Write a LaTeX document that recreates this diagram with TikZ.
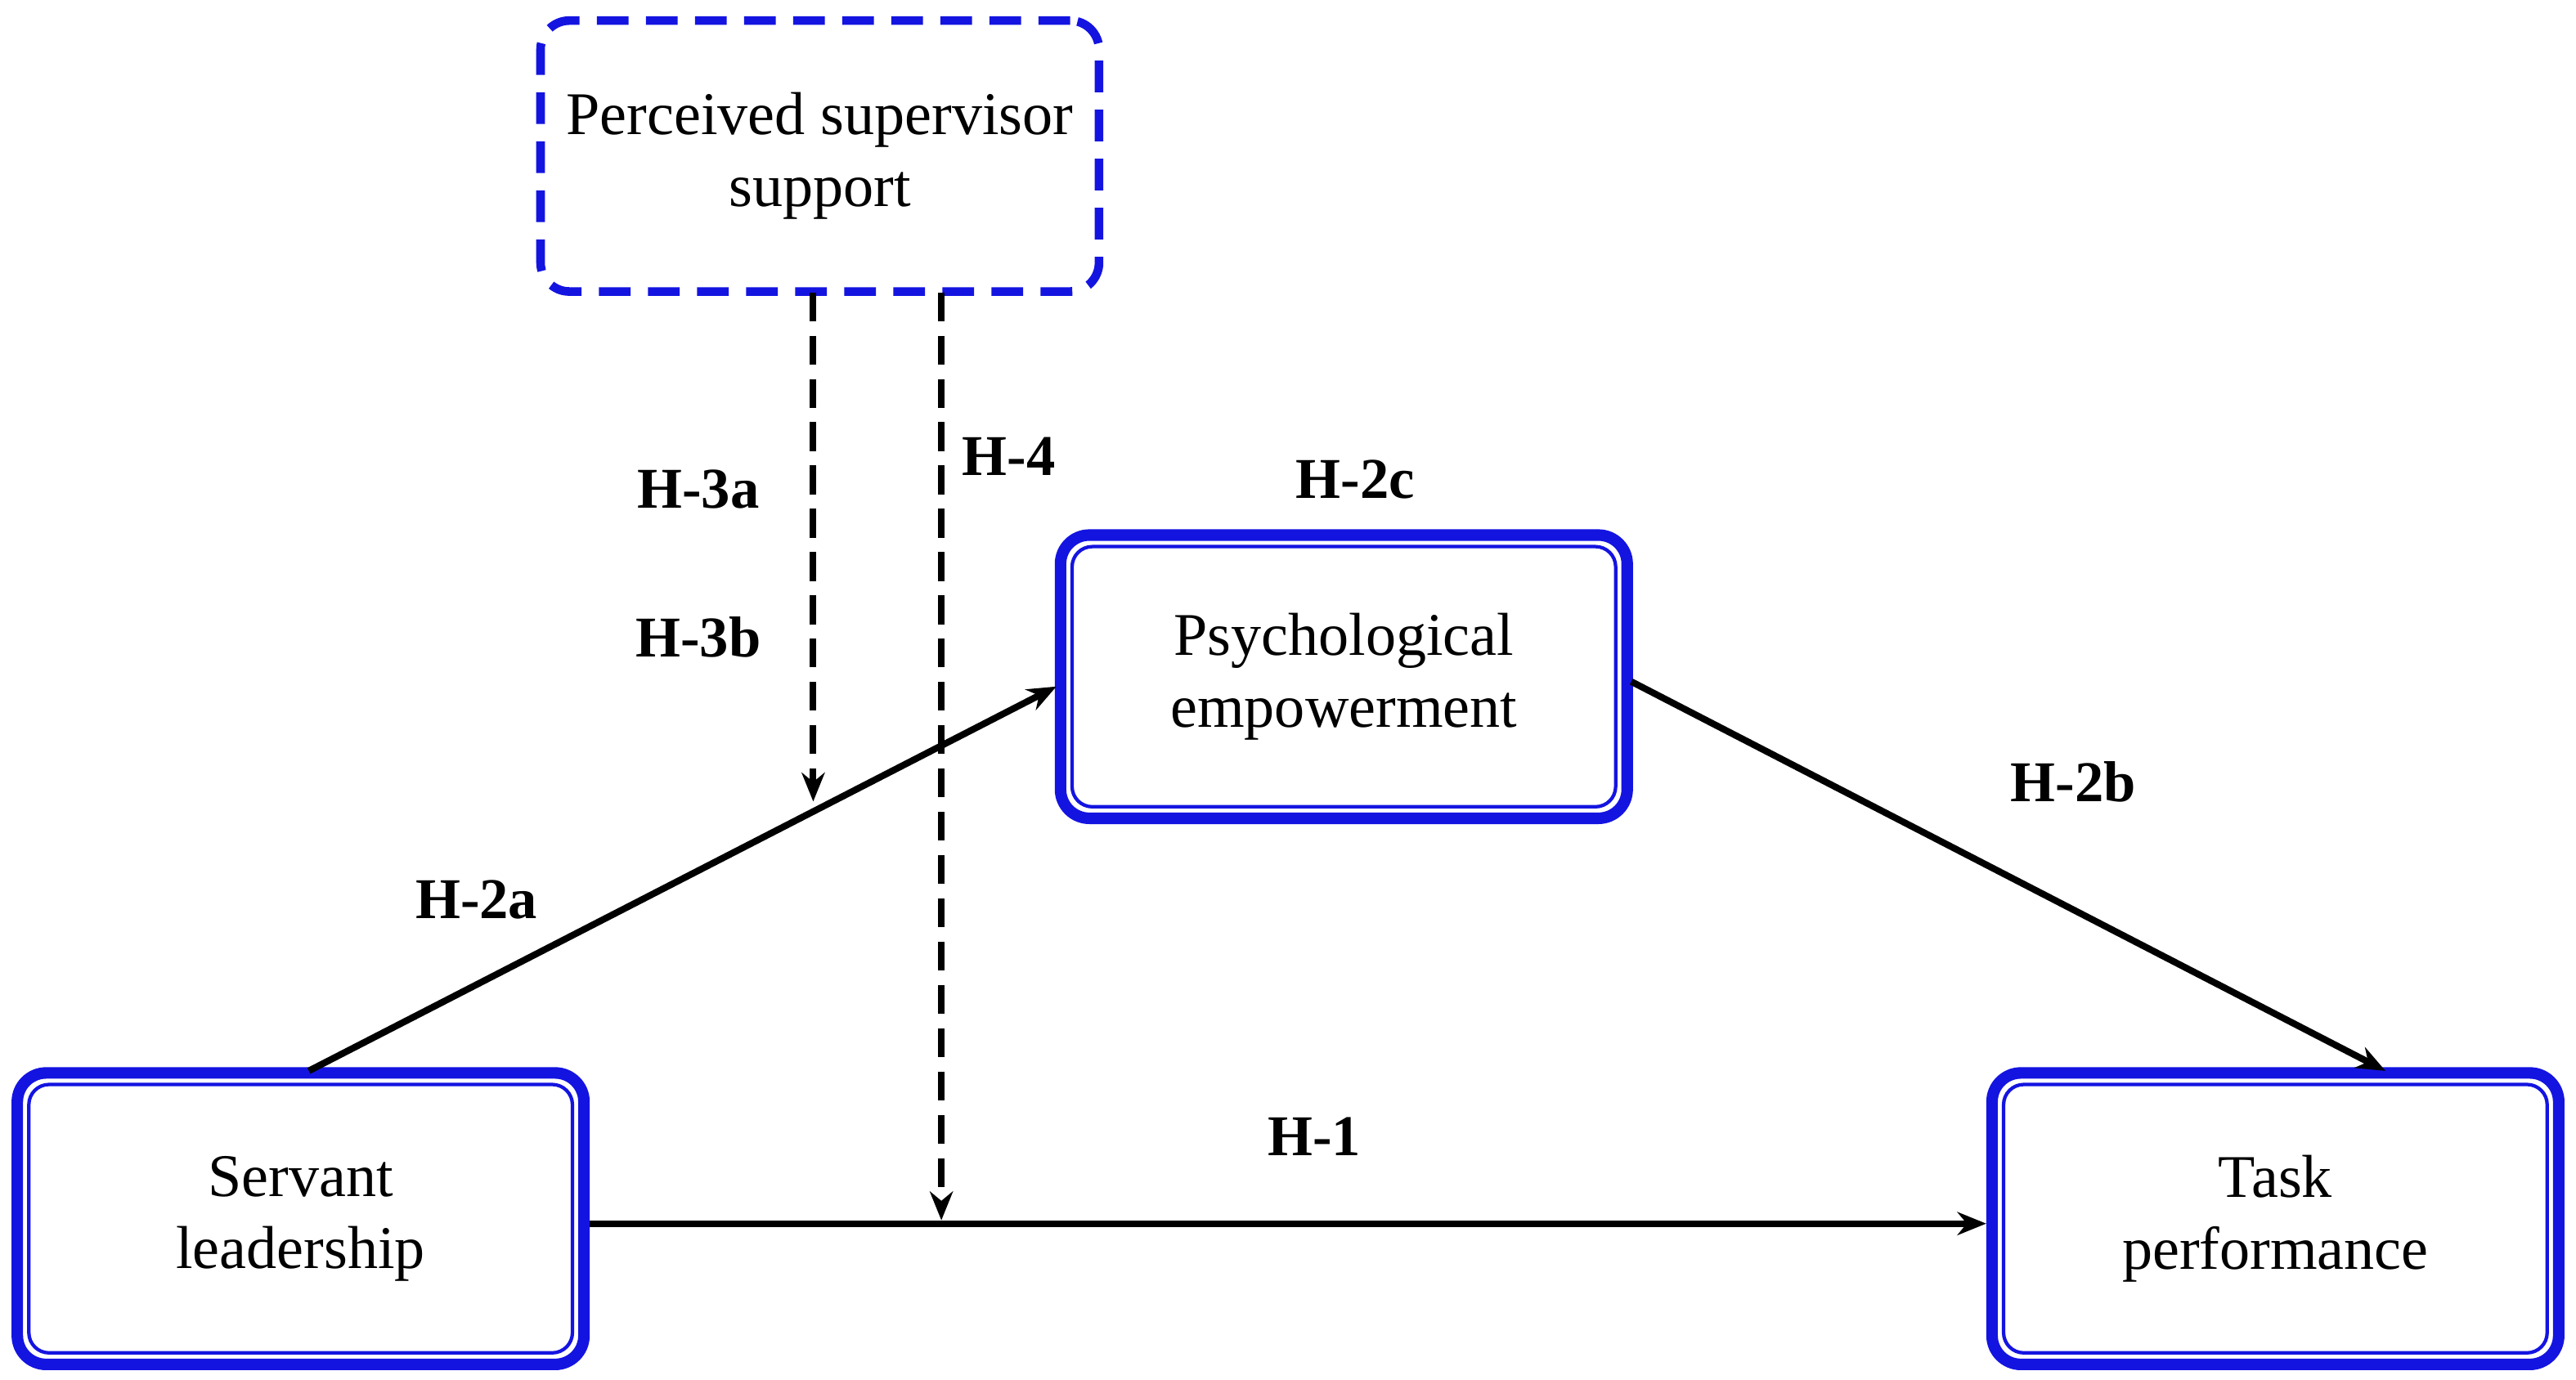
\documentclass[tikz,border=0pt]{standalone}
\usepackage{fontspec}
\setmainfont{Liberation Serif}
\usetikzlibrary{arrows.meta}
\definecolor{bb}{RGB}{20,20,225}
\begin{document}
\begin{tikzpicture}[x=0.02cm,y=-0.02cm,
  box/.style={draw=bb,line width=4pt,rounded corners=10pt,minimum width=6.9cm,minimum height=3.45cm,align=center,font=\fontsize{21}{25}\selectfont,inner sep=0pt},
  lab/.style={font=\bfseries\fontsize{20}{24}\selectfont},
  arr/.style={line width=2.3pt,-{Stealth[length=10pt,width=8pt]}},
  darr/.style={arr,dash pattern=on 10pt off 5pt}]
\useasboundingbox (0,0) rectangle (1568,840);
\node[box,dash pattern=on 11pt off 6pt,line width=3pt,minimum width=6.8cm,minimum height=3.3cm] (pss) at (499,95) {Perceived supervisor\\support};
\node[box] (pe) at (818,412) {Psychological\\empowerment};
\node[box,minimum height=3.55cm] (sl) at (183,742) {Servant\\leadership};
\node[box,minimum height=3.55cm] (tp) at (1385,742) {Task\\performance};
\foreach \n in {pe,sl,tp}{
  \draw[bb,line width=1.2pt,rounded corners=7pt] ([shift={(6pt,-6pt)}]\n.north west) rectangle ([shift={(-6pt,6pt)}]\n.south east);}
\coordinate (a1) at (188,652);
\coordinate (a2) at (643,418);
\draw[arr] (a1) -- (a2);
\coordinate (b1) at (993,415);
\coordinate (b2) at (1452,652);
\draw[arr] (b1) -- (b2);
\draw[arr] (sl.east |- 0,745) -- (tp.west |- 0,745);
\coordinate (d1) at (495,178);
\coordinate (d2) at (495,488);
\coordinate (e1) at (573,178);
\coordinate (e2) at (573,743);
\draw[darr] (d1) -- (d2);
\draw[darr] (e1) -- (e2);
\node[lab] (h3a) at (425,298) {H-3a};
\node[lab] (h3b) at (425,388) {H-3b};
\node[lab] (h4) at (614,278) {H-4};
\node[lab] (h2c) at (825,292) {H-2c};
\node[lab] (h2b) at (1262,476) {H-2b};
\node[lab] (h2a) at (290,548) {H-2a};
\node[lab] (h1) at (800,692) {H-1};
\end{tikzpicture}
\end{document}
